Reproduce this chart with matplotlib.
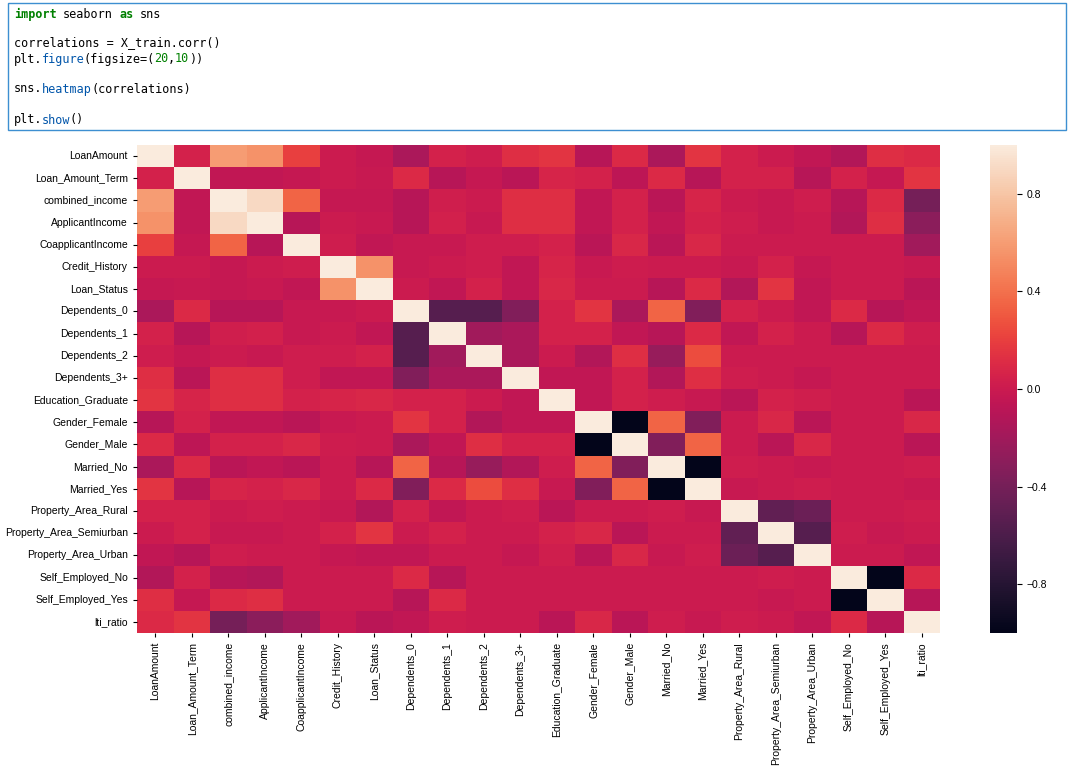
import numpy as np
import matplotlib
matplotlib.use("Agg")
import matplotlib.pyplot as plt
import seaborn as sns
from matplotlib.patches import Rectangle

labels = ["LoanAmount","Loan_Amount_Term","combined_income","ApplicantIncome","CoapplicantIncome",
          "Credit_History","Loan_Status","Dependents_0","Dependents_1","Dependents_2","Dependents_3+",
          "Education_Graduate","Gender_Female","Gender_Male","Married_No","Married_Yes",
          "Property_Area_Rural","Property_Area_Semiurban","Property_Area_Urban",
          "Self_Employed_No","Self_Employed_Yes","lti_ratio"]

# upper-triangle rows (values right of the diagonal)
r0 = [0.05,0.6,0.55,0.2,0.0,-0.03,-0.15,0.05,0.02,0.12,0.15,-0.1,0.1,-0.15,0.15,0.05,0.0,-0.05,-0.12,0.12,0.1]
r1 = [-0.05,-0.05,-0.03,0.0,-0.02,0.1,-0.1,-0.03,-0.08,0.07,0.05,-0.07,0.1,-0.1,0.05,0.05,-0.1,0.05,-0.03,0.15]
r2 = [0.9,0.35,-0.03,-0.03,-0.1,0.03,0.0,0.12,0.12,-0.05,0.05,-0.08,0.07,0.0,-0.02,0.02,-0.1,0.1,-0.4]
r3 = [-0.1,0.0,-0.01,-0.1,0.04,-0.02,0.12,0.12,-0.05,0.05,-0.05,0.05,0.02,-0.02,0.0,-0.12,0.12,-0.3]
r4 = [0.02,-0.05,-0.02,-0.02,0.02,0.02,0.05,-0.08,0.08,-0.08,0.08,0.0,0.0,0.0,0.0,0.0,-0.2]
r5 = [0.55,-0.02,0.0,0.02,-0.05,0.07,-0.01,0.01,0.0,0.0,-0.02,0.05,-0.03,0.0,0.0,-0.02]
r6 = [0.0,-0.05,0.05,-0.05,0.08,0.0,0.0,-0.1,0.1,-0.12,0.15,-0.05,0.0,0.0,-0.08]
r7 = [-0.55,-0.55,-0.35,0.05,0.15,-0.15,0.35,-0.35,0.05,0.0,-0.05,0.1,-0.1,-0.05]
r8 = [-0.2,-0.15,0.05,0.05,-0.05,-0.1,0.1,-0.05,0.05,0.0,-0.1,0.1,0.02]
r9 = [-0.15,0.0,-0.12,0.12,-0.25,0.25,0.0,0.0,0.0,0.0,0.0,0.0]
r10 = [-0.05,-0.05,0.05,-0.12,0.12,0.02,0.0,-0.03,0.0,0.0,0.0]
r11 = [-0.05,0.05,0.02,-0.02,-0.08,0.05,0.03,0.0,0.0,-0.08]
r12 = [-1.0,0.35,-0.35,0.0,0.08,-0.08,0.0,0.0,0.08]
r13 = [-0.35,0.35,0.0,-0.08,0.08,0.0,0.0,-0.08]
r14 = [-1.0,0.02,0.0,-0.02,0.0,0.0,0.02]
r15 = [-0.02,0.0,0.02,0.0,0.0,-0.02]
r16 = [-0.5,-0.45,0.0,0.0,0.02]
r17 = [-0.55,0.02,-0.02,0.0]
r18 = [0.0,0.0,-0.05]
r19 = [-1.0,0.1]
r20 = [-0.1]
upper = [r0,r1,r2,r3,r4,r5,r6,r7,r8,r9,r10,r11,r12,r13,r14,r15,r16,r17,r18,r19,r20]

n = len(labels)
M = np.eye(n)
for i, row in enumerate(upper):
    for k, v in enumerate(row):
        j = i + 1 + k
        M[i, j] = v
        M[j, i] = v

plt.rcParams['font.family'] = ['Liberation Sans', 'DejaVu Sans']
W, H = 1070, 768
fig = plt.figure(figsize=(W/100, H/100), dpi=100)
ax = fig.add_axes([137/W, 1-633/H, (940-137)/W, (633-145)/H])
cax = fig.add_axes([990/W, 1-633/H, 27/W, (633-145)/H])
sns.heatmap(M, ax=ax, cbar_ax=cax, vmin=-1, vmax=1, cmap="rocket",
            xticklabels=labels, yticklabels=labels)
ax.tick_params(labelsize=7.5, length=3)
cax.tick_params(labelsize=7.5)
cax.set_yticks([-0.8,-0.4,0.0,0.4,0.8])
cax.set_yticklabels(["\u22120.8","\u22120.4","0.0","0.4","0.8"])

# code cell
fig.patches.append(Rectangle((8/W, 1-130/H), 1058/W, 127/H, transform=fig.transFigure,
                             fill=True, facecolor="white", edgecolor="#3d8fd1", lw=1))
cw = 7.0
def seg(line_y, col, txt, color="black", bold=False):
    fig.text((14+col*cw)/W, 1-line_y/H, txt, family="DejaVu Sans Mono", fontsize=8.5,
             color=color, weight="bold" if bold else "normal", va="center")
G = "#008000"; B = "#0055aa"
seg(14, 0, "import", G, True); seg(14, 7, "seaborn"); seg(14, 15, "as", G, True); seg(14, 18, "sns")
seg(43, 0, "correlations = X_train.corr()")
seg(59, 0, "plt."); seg(59, 4, "figure", B); seg(59, 10, "(figsize=("); seg(59, 20, "20", G)
seg(59, 22, ","); seg(59, 23, "10", G); seg(59, 25, "))")
seg(89, 0, "sns."); seg(89, 4, "heatmap", B); seg(89, 11, "(correlations)")
seg(120, 0, "plt."); seg(120, 4, "show", B); seg(120, 8, "()")

fig.savefig("out.png", dpi=100)
